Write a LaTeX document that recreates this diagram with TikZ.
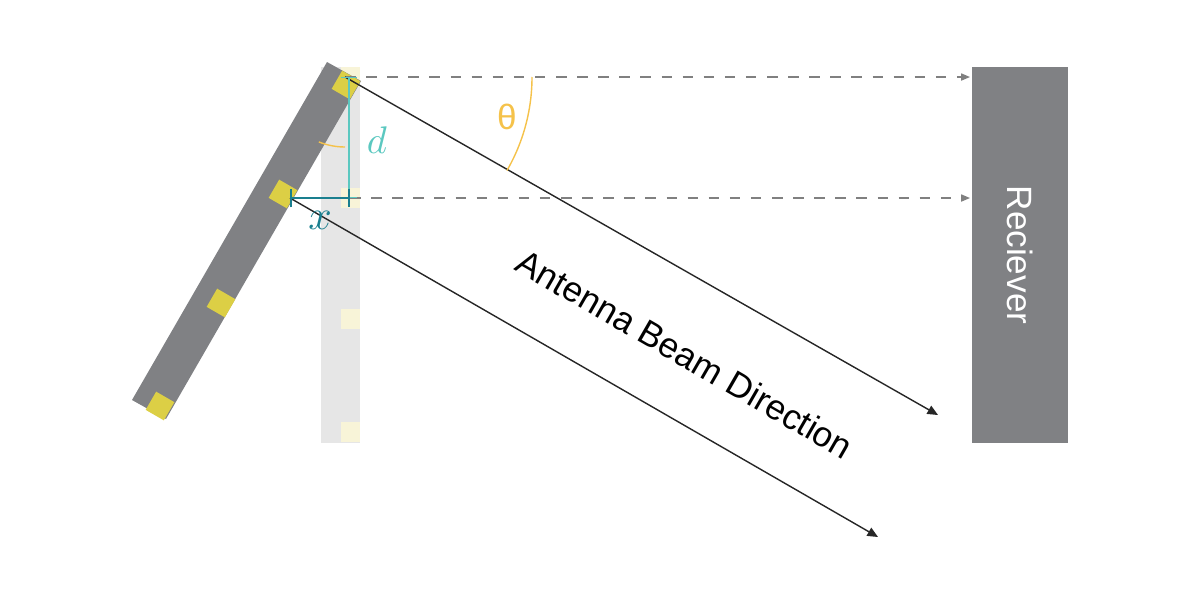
\documentclass[tikz,border=0pt]{standalone}
\usepackage{fontspec}
\setmainfont{Liberation Sans}
\usetikzlibrary{arrows.meta, positioning}
\definecolor{barGray}{HTML}{808184}
\definecolor{ghostGray}{HTML}{E6E6E6}
\definecolor{cream}{HTML}{F8F4D8}
\definecolor{elemYellow}{HTML}{DCCF45}
\definecolor{dTeal}{HTML}{5BC8C0}
\definecolor{xTeal}{HTML}{1A7F8F}
\definecolor{angOrange}{HTML}{F5C24A}
\begin{document}
\begin{tikzpicture}[
    x=0.01cm, y=-0.01cm,
    elem/.style = {rectangle, fill=elemYellow, inner sep=0pt, minimum size=0.21cm, rotate=60},
    ghost/.style = {rectangle, fill=cream, inner sep=0pt, minimum width=0.19cm, minimum height=0.2cm},
    ray/.style = {black!85, thin, -{Triangle[length=3pt,width=2.6pt]}},
    guide/.style = {gray, dashed, thin, -{Triangle[length=2.5pt,width=2pt]}},
]
    \useasboundingbox (0,0) rectangle (1201,600);
    % projected array
    \fill[ghostGray] (321,67) rectangle (360,443);
    \foreach \y [count=\j] in {77,198,319,432}
        \node[ghost] (g\j) at (350.5,\y) {};
    % tilted array
    \fill[barGray] (327,62) -- (361,81) -- (166,419) -- (132,400) -- cycle;
    \foreach \p [count=\j] in {{(346,85)}, {(283,194)}, {(221,303)}, {(160,406)}}
        \node[elem] (e\j) at \p {};
    % receiver
    \node[rectangle, fill=barGray, minimum width=0.96cm, minimum height=3.76cm, inner sep=0pt] (rx) at (1020,255) {};
    \node[rotate=-90, text=white, font=\fontsize{10}{12}\selectfont] at (rx.center) {Reciever};
    % guides and rays
    \coordinate (a1) at (345,77);
    \coordinate (a2) at (290,198);
    \coordinate (p2) at (350,198);
    \coordinate (r1) at (970,77);
    \coordinate (r2) at (970,198);
    \coordinate (b1) at (938,415);
    \coordinate (b2) at (878,537);
    \draw[guide] (a1) -- (r1);
    \draw[guide] (p2) -- (r2);
    \draw[ray] (a1) -- (b1);
    \draw[ray] (a2) -- (b2);
    \node[rotate=-30, font=\fontsize{10}{12}\selectfont] (beam) at (685,354) {Antenna Beam Direction};
    % angles
    \draw[angOrange, thin] (a1) ++(0:187) arc[start angle=0, end angle=30, radius=187];
    \draw[angOrange, thin] (a1) ++(90:70) arc[start angle=90, end angle=112, radius=70];
    \node[text=angOrange, font=\fontsize{10}{12}\selectfont] (th) at (507,117) {θ};
    % spacing d and offset x
    \draw[dTeal, thin, |-|] (349,77) -- (349,198);
    \node[text=dTeal, font=\fontsize{11}{12}\selectfont] (dl) at (377,140) {$d$};
    \draw[xTeal, semithick, |-|] (a2) -- (p2);
    \node[text=xTeal, font=\fontsize{12}{13}\selectfont] (xl) at (320,220) {$x$};
\end{tikzpicture}
\end{document}
